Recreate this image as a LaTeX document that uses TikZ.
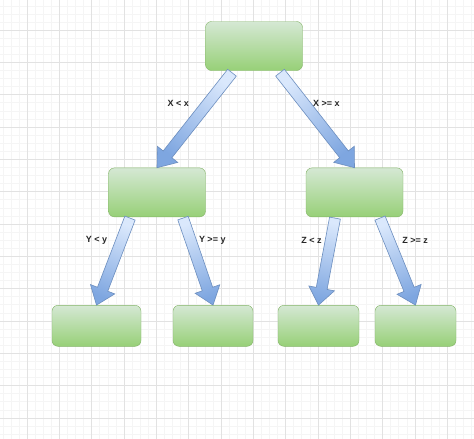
\documentclass[tikz,border=0pt]{standalone}
\usepackage{fontspec}
\setmainfont{Liberation Sans}
\usetikzlibrary{positioning,calc}

\definecolor{boxtop}{HTML}{D5E8D4}
\definecolor{boxbottom}{HTML}{97D077}
\definecolor{boxline}{HTML}{82B366}
\definecolor{arrtop}{HTML}{DAE8FC}
\definecolor{arrbottom}{HTML}{7EA6E0}
\definecolor{arrline}{HTML}{6C8EBF}
\definecolor{minorgrid}{HTML}{F5F5F5}
\definecolor{majorgrid}{HTML}{E2E2E2}

% block arrow from #1 (tail) to #2 (tip)
\newcommand{\blockarrow}[2]{%
  \path let \p1 = ($(#2)-(#1)$) in
    \pgfextra{\pgfmathparse{atan2(\y1,\x1)}\xdef\arrowangle{\pgfmathresult}};
  \coordinate (base) at ($(#2)!17pt!(#1)$);
  \shade[arrowbody, shading angle=\arrowangle+90]
    ($(#1)!5.5pt!90:(#2)$) -- ($(base)!5.5pt!-90:(#1)$)
    -- ($(base)!13pt!-90:(#1)$) -- (#2)
    -- ($(base)!13pt!90:(#1)$) -- ($(base)!5.5pt!90:(#1)$)
    -- ($(#1)!5.5pt!-90:(#2)$) -- cycle;
}

\tikzset{
  box/.style = {rounded corners=6pt, draw=boxline, top color=boxtop,
    bottom color=boxbottom, inner sep=0pt, minimum height=49pt, minimum width=97pt},
  leaf/.style = {box, minimum height=41pt},
  arrowbody/.style = {draw=arrline, line width=0.6pt, line join=miter,
    top color=arrtop, bottom color=arrbottom},
  lbl/.style = {inner sep=0pt, font=\fontsize{9}{10}\selectfont\bfseries, text=black!85}
}

\begin{document}
\begin{tikzpicture}[x=1pt, y=1pt]
\useasboundingbox (0,0) rectangle (474,-439);
\fill[white] (0,0) rectangle (474,-439);
% background grid
\foreach \i in {0,...,58} \draw[minorgrid, line width=0.5pt] (2.76+8.08*\i,0) -- (2.76+8.08*\i,-439);
\foreach \j in {0,...,53} \draw[minorgrid, line width=0.5pt] (0,-5.76-8.08*\j) -- (474,-5.76-8.08*\j);
\foreach \i in {0,...,13} \draw[majorgrid, line width=0.6pt] (27+32.32*\i,0) -- (27+32.32*\i,-439);
\foreach \j in {0,...,12} \draw[majorgrid, line width=0.6pt] (0,-30-32.32*\j) -- (474,-30-32.32*\j);

\node[box] (root) at (254,-46) {};
\node[box, below=97pt of root, xshift=-97pt] (midL) {};
\node[box, below=97pt of root, xshift=100.5pt] (midR) {};
\node[leaf, below=88pt of midL, xshift=-60.5pt, minimum width=89pt] (leafLL) {};
\node[leaf, below=88pt of midL, xshift=56pt, minimum width=80pt] (leafLR) {};
\node[leaf, below=88pt of midR, xshift=-36pt, minimum width=81pt] (leafRL) {};
\node[leaf, below=88pt of midR, xshift=61pt, minimum width=81pt] (leafRR) {};

\coordinate (tX1) at ($(root.south)+(-22,-2)$);
\coordinate (tX2) at ($(root.south)+(26,-2)$);
\coordinate (tY1) at ($(midL.south)+(-27,-1)$);
\coordinate (tY2) at ($(midL.south)+(26,-1)$);
\coordinate (tZ1) at ($(midR.south)+(-19.5,-1)$);
\coordinate (tZ2) at ($(midR.south)+(25.5,-1)$);

\blockarrow{tX1}{midL.north}
\blockarrow{tX2}{midR.north}
\blockarrow{tY1}{leafLL.north}
\blockarrow{tY2}{leafLR.north}
\blockarrow{tZ1}{leafRL.north}
\blockarrow{tZ2}{leafRR.north}

\node[lbl, left=19pt] (lblX1) at ($(tX1)!.32!(midL.north)$) {X < x};
\node[lbl, right=9pt] (lblX2) at ($(tX2)!.32!(midR.north)$) {X >= x};
\node[lbl, left=14pt] (lblY1) at ($(tY1)!.26!(leafLL.north)$) {Y < y};
\node[lbl, right=8pt] (lblY2) at ($(tY2)!.26!(leafLR.north)$) {Y >= y};
\node[lbl, left=9pt] (lblZ1) at ($(tZ1)!.26!(leafRL.north)$) {Z < z};
\node[lbl, right=13pt] (lblZ2) at ($(tZ2)!.26!(leafRR.north)$) {Z >= z};
\end{tikzpicture}
\end{document}
